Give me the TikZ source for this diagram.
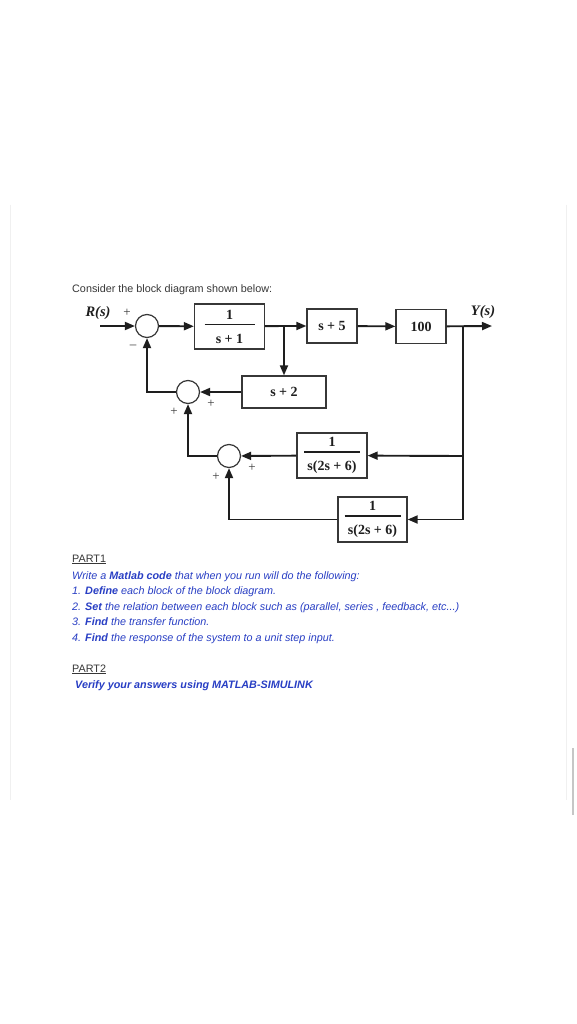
\documentclass[tikz,border=0pt]{standalone}
\usepackage{fontspec}
\setmainfont{Liberation Serif}
\setsansfont{Liberation Sans}
\usetikzlibrary{arrows.meta}
\definecolor{qblue}{RGB}{40,62,196}
\definecolor{qgray}{RGB}{55,55,55}
\definecolor{qline}{RGB}{30,30,30}
\newcommand{\blkfrac}[3]{#1\\[-6pt]\rule[4pt]{#3}{1.3pt}\\[-2pt]#2}
\tikzset{
  blk/.style={draw=qgray,line width=1.3pt,inner sep=0pt,align=center,
    font=\fontsize{14}{16}\selectfont\bfseries,text=qline},
  sumj/.style={circle,draw=qgray,line width=1.2pt,minimum size=23pt,inner sep=0pt},
  sig/.style={line width=1.9pt,draw=qline,-{Triangle[length=10pt,width=8pt]}},
  wire/.style={line width=1.9pt,draw=qline},
  sgn/.style={font=\fontsize{13}{13}\selectfont,text=qgray},
  txt/.style={anchor=base west,inner sep=0pt,font=\sffamily\fontsize{10.8}{13}\selectfont,text=qgray},
  btxt/.style={anchor=base west,inner sep=0pt,font=\sffamily\itshape\fontsize{10.8}{13}\selectfont,text=qblue},
}
\begin{document}
\begin{tikzpicture}[x=1pt,y=-1pt]
  \useasboundingbox[fill=white] (0,0) rectangle (576,1024);
  % page frame
  \draw[gray!12,line width=1pt] (10,205) -- (10,800);
  \draw[gray!12,line width=1pt] (566,205) -- (566,800);
  \draw[gray!45,line width=2pt] (573,748) -- (573,815);

  \node[txt] (intro) at (72,292) {Consider the block diagram shown below:};

  % blocks
  \node[sumj] (s1) at (147,326) {};
  \node[blk,minimum width=70pt,minimum height=45pt] (g1) at (229.5,326.5) {\blkfrac{1}{s + 1}{50pt}};
  \node[blk,minimum width=50pt,minimum height=34pt] (g2) at (332,326) {s + 5};
  \node[blk,minimum width=50pt,minimum height=34pt] (g3) at (421,326.5) {100};
  \node[blk,minimum width=84pt,minimum height=32pt] (h1) at (284,392) {s + 2};
  \node[sumj] (s2) at (188,392) {};
  \node[blk,minimum width=70pt,minimum height=45pt] (f1) at (332,455.5) {\blkfrac{1}{s(2s + 6)}{56pt}};
  \node[sumj] (s3) at (229,456) {};
  \node[blk,minimum width=69pt,minimum height=45pt] (f2) at (372.5,519.5) {\blkfrac{1}{s(2s + 6)}{56pt}};

  \coordinate (rin) at (100,326);
  \coordinate (b1) at (284,326);
  \coordinate (b2) at (463,326);
  \coordinate (yout) at (492,326);
  \coordinate (b3) at (463,456);
  \coordinate (b4) at (463,519.5);

  % signals
  \draw[sig] (rin) -- (s1);
  \draw[sig] (s1) -- (g1);
  \draw[wire] (g1) -- (b1);
  \draw[sig] (b1) -- (g2);
  \draw[sig] (b1) -- (h1.north);
  \draw[sig] (g2) -- (g3);
  \draw[sig] (g3) -- (yout);
  \draw[wire] (b2) -- (b4);
  \draw[sig] (b3) -- (f1);
  \draw[sig] (b4) -- (f2);
  \draw[sig] (f1) -- (s3);
  \draw[sig] (f2) -| (s3);
  \draw[sig] (s3) -| (s2);
  \draw[sig] (h1) -- (s2);
  \draw[sig] (s2) -| (s1);

  % labels
  \node[font=\fontsize{14.5}{14}\selectfont\bfseries\itshape,text=qline] (rlab) at (98,313) {R(s)};
  \node[font=\fontsize{14.5}{14}\selectfont\bfseries\itshape,text=qline] (ylab) at (483,312) {Y(s)};
  \node[sgn] (p1) at (127,313) {+};
  \node[sgn] (m1) at (133,347) {\textendash};
  \node[sgn] (p2) at (174,412) {+};
  \node[sgn] (p3) at (211,404) {+};
  \node[sgn] (p4) at (252,468) {+};
  \node[sgn] (p5) at (216,477) {+};

  % questions
  \node[txt] (part1) at (72,562) {\underline{PART1}};
  \node[btxt] (q0) at (72,579) {Write a \textbf{Matlab code} that when you run will do the following:};
  \node[btxt] (q1) at (72,594) {1. \textbf{Define} each block of the block diagram.};
  \node[btxt] (q2) at (72,610) {2. \textbf{Set} the relation between each block such as (parallel, series , feedback, etc...)};
  \node[btxt] (q3) at (72,625) {3. \textbf{Find} the transfer function.};
  \node[btxt] (q4) at (72,641) {4. \textbf{Find} the response of the system to a unit step input.};
  \node[txt] (part2) at (72,672) {\underline{PART2}};
  \node[btxt,font=\sffamily\bfseries\itshape\fontsize{10.8}{13}\selectfont] (q5) at (75,688) {Verify your answers using MATLAB-SIMULINK};
\end{tikzpicture}
\end{document}
